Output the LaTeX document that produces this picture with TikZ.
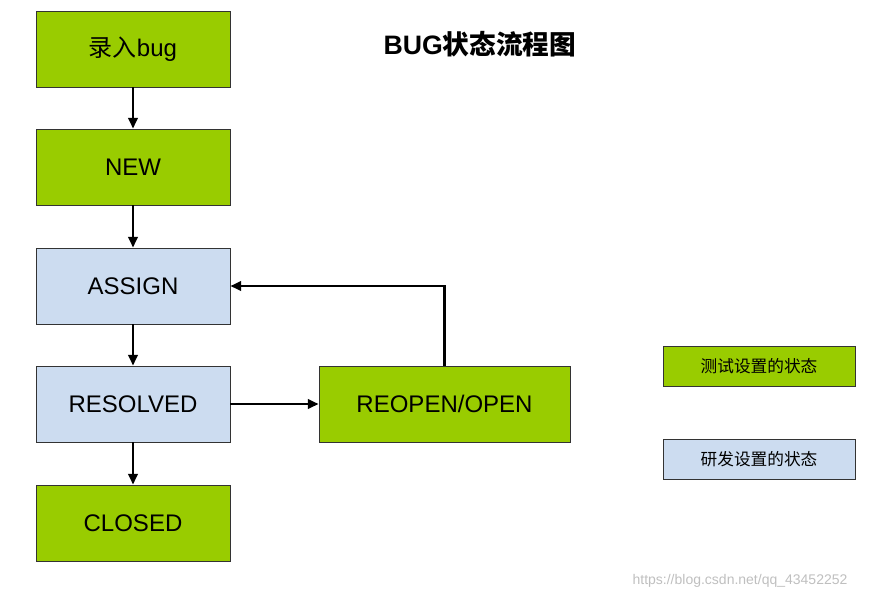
\documentclass[tikz,border=0pt]{standalone}
\usepackage{fontspec}
\setmainfont{Liberation Sans}
\newfontfamily\cjk{Noto Sans CJK SC}
\usetikzlibrary{arrows.meta}
\definecolor{tgreen}{HTML}{99CC00}
\definecolor{dblue}{HTML}{CCDCF0}
\begin{document}
\begin{tikzpicture}[x=0.75pt,y=-0.75pt,
  box/.style={draw=black!80,line width=0.6pt,minimum width=194*0.75pt,minimum height=76*0.75pt,inner sep=0pt,font=\fontsize{18}{20}\selectfont},
  leg/.style={draw=black!80,line width=0.6pt,minimum width=192*0.75pt,minimum height=40*0.75pt,inner sep=0pt,font=\fontsize{12.5}{14}\selectfont\cjk},
  arr/.style={line width=2pt,-{Triangle[length=8pt,width=7pt]}}]
\useasboundingbox (0,0) rectangle (871,600);
\node[box,fill=tgreen] (a) at (133,49) {{\cjk 录入}bug};
\node[box,fill=tgreen] (b) at (133,167) {NEW};
\node[box,fill=dblue] (c) at (133,286) {ASSIGN};
\node[box,fill=dblue] (d) at (133,404) {RESOLVED};
\node[box,fill=tgreen] (e) at (133,523) {CLOSED};
\node[box,fill=tgreen,minimum width=251*0.75pt] (f) at (444.5,404) {REOPEN/OPEN};
\node[font=\fontsize{20}{22}\selectfont\bfseries] (t) at (480,44) {BUG{\cjk 状态流程图}};
\node[leg,fill=tgreen] (l1) at (759,366) {测试设置的状态};
\node[leg,fill=dblue] (l2) at (759,459) {研发设置的状态};
\node[font=\fontsize{10.5}{12}\selectfont,text=black!25] (w) at (740,581) {https://blog.csdn.net/qq\_43452252};
\draw[arr] (a) -- (b);
\draw[arr] (b) -- (c);
\draw[arr] (c) -- (d);
\draw[arr] (d) -- (e);
\draw[arr] (d) -- (f);
\draw[arr] (f.north) |- (c.east);
\end{tikzpicture}
\end{document}
